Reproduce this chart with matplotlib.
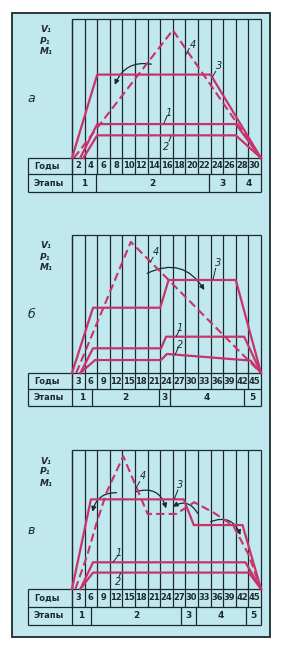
import matplotlib
matplotlib.use("Agg")
import matplotlib.pyplot as plt
from matplotlib.patches import Rectangle, FancyArrowPatch

W, H = 282, 649
BG = "#c0e8ee"
INK = "#1c2a2e"
MAG = "#c9336c"

# ---- panel а (years 0..30) ----
A_TICKS = [2, 4, 6, 8, 10, 12, 14, 16, 18, 20, 22, 24, 26, 28, 30]
A_STAGES = ["1", "2", "3", "4"]
A_STAGE_EDGES = [0, 3.8, 21.7, 26, 30]
A_L1_X = [1.3, 4, 26, 30]
A_L1_Y = [0, 24.4, 24.4, 0]
A_L2_X = [1.8, 4, 26, 30]
A_L2_Y = [0, 16.3, 16.3, 0]
A_L3_X = [0, 4, 22, 30]
A_L3_Y = [0, 60, 60, 0]
A_L4_X = [0.3, 16, 30]
A_L4_Y = [0, 92, 0]

# ---- panel б (years 0..45) ----
B_TICKS = [3, 6, 9, 12, 15, 18, 21, 24, 27, 30, 33, 36, 39, 42, 45]
B_STAGES = ["1", "2", "3", "4", "5"]
B_STAGE_EDGES = [0, 4.8, 20.7, 23.3, 41, 45]
B_L1_X = [2, 5, 21.2, 22.4, 41, 45]
B_L1_Y = [0, 17.9, 17.9, 26.3, 26.3, 0]
B_L2_X = [2, 5.5, 21.2, 22.6, 42.5, 45]
B_L2_Y = [0, 9.4, 9.4, 13.8, 9.0, 0]
B_L3_X = [0, 5, 21, 23, 39, 45]
B_L3_Y = [0, 47.3, 47.3, 67.4, 67.4, 0]
B_L4_X = [1, 14, 45]
B_L4_Y = [0, 95, 0]

# ---- panel в (years 0..45) ----
C_TICKS = B_TICKS
C_STAGES = ["1", "2", "3", "4", "5"]
C_STAGE_EDGES = [0, 4.5, 26, 29.5, 41.4, 45]
C_L1_X = [2, 5, 41.3, 45]
C_L1_Y = [0, 19.2, 19.2, 0]
C_L2_X = [2, 5, 42.1, 45]
C_L2_Y = [0, 11.8, 11.8, 0]
C_L3_X = [0, 4.5, 26.6, 29.0, 40.6, 45]
C_L3_Y = [0, 64.5, 64.5, 46, 46, 0]
C_L4_X = [0.8, 3.6, 5.9, 8.3, 12.2, 18, 24.8, 29.1, 33.7, 38.4, 42, 45]
C_L4_Y = [0, 24, 48, 70, 95.5, 54, 54, 62.4, 55, 45.5, 25, 0]

SIDE_CAPTIONS = ["V₁", "P₁", "M₁"]

# curve labels: text, text pos, leader start, leader end
A_LABELS = [("4", (19.2, 81), (18.6, 78.8), (18.1, 74.5)),
            ("3", (23.3, 66), (22.8, 62.2), (22.3, 58.5)),
            ("1", (15.3, 32.5), (15.05, 29.9), (14.6, 25.1)),
            ("2", (14.9, 8), (15.4, 12), (15.7, 15.5))]
B_LABELS = [("4", (19.9, 87.5), (19.3, 83.8), (18.6, 80.5)),
            ("3", (34.9, 79.5), (34.2, 75.8), (33.6, 68)),
            ("1", (25.6, 32.5), (25.4, 30), (24.8, 26.5)),
            ("2", (25.8, 20.5), (25.2, 17.9), (24.6, 13.6))]
C_LABELS = [("4", (16.8, 81), (16.1, 77.2), (15.3, 73)),
            ("3", (25.8, 74.5), (25.2, 71.2), (24.4, 65)),
            ("1", (11, 26), (10.8, 23.3), (9.8, 19.5)),
            ("2", (10.9, 5), (11.1, 8.2), (11.6, 11.5))]

# curved arrows: start, end, curvature
A_ARROWS = [((12.6, 67.5), (6.8, 52.6), 0.4)]
B_ARROWS = [((17.9, 72.2), (31.5, 60.1), -0.45)]
C_ARROWS = [((10.6, 69.3), (4.9, 55.6), 0.4),
            ((15.2, 70), (22.4, 58), -0.5),
            ((29.9, 54.4), (24.0, 59.2), 0.5),
            ((33.0, 48.4), (40.1, 38.8), -0.5)]

GRID_L, GRID_R, TABLE_L = 72, 261, 28


def draw_panel(fig, top, bot, r1, r2, xmax, ticks, edges, stages,
               lines, dashed, labels, arrows, letter):
    ax = fig.add_axes([GRID_L / W, 1 - bot / H, (GRID_R - GRID_L) / W, (bot - top) / H])
    ax.set_xlim(0, xmax)
    ax.set_ylim(0, 100)
    ax.axis("off")

    def py(ypx):
        return (bot - ypx) / (bot - top) * 100

    def px(xpx):
        return (xpx - GRID_L) / (GRID_R - GRID_L) * xmax

    y1, y2 = py(r1), py(r2)
    kw = dict(color=INK, lw=0.9, clip_on=False, solid_capstyle="butt")
    # grid + year columns
    for t in [0] + ticks[:-1]:
        ax.plot([t, t], [100, y1], **kw)
    ax.plot([0, 0], [100, y2], **kw)
    ax.plot([xmax, xmax], [100, y2], **kw)
    ax.plot([0, xmax], [100, 100], **kw)
    for yy in (0, y1, y2):
        ax.plot([px(TABLE_L), xmax], [yy, yy], **kw)
    ax.plot([px(TABLE_L)] * 2, [0, y2], **kw)
    for e in edges[1:-1]:
        ax.plot([e, e], [y1, y2], **kw)

    step = ticks[1] - ticks[0]
    for t in ticks:
        ax.text(t - step / 2, y1 / 2, str(t), ha="center", va="center",
                fontsize=6, fontweight="bold", color=INK)
    for a, b, s in zip(edges[:-1], edges[1:], stages):
        ax.text((a + b) / 2, (y1 + y2) / 2, s, ha="center", va="center",
                fontsize=6.5, fontweight="bold", color=INK)
    ax.text(px(34), y1 / 2, "Годы", ha="left", va="center",
            fontsize=6, fontweight="bold", color=INK)
    ax.text(px(34), (y1 + y2) / 2, "Этапы", ha="left", va="center",
            fontsize=6, fontweight="bold", color=INK)

    # side captions
    for i, s in enumerate(SIDE_CAPTIONS):
        ax.text(px(40), py(top + 11 + 11 * i), s, ha="left", va="center",
                fontsize=6.5, color=INK, style="italic", fontweight="bold")
    ax.text(px(31), py(top + 80), letter, ha="center", va="center",
            fontsize=9, style="italic", color=INK)

    for xs, ys in lines:
        ax.plot(xs, ys, color=MAG, lw=1.6, clip_on=False)
    ax.plot(dashed[0], dashed[1], color=MAG, lw=1.5, ls=(0, (4, 2)), clip_on=False)

    for s, tp, l0, l1 in labels:
        ax.plot([l0[0], l1[0]], [l0[1], l1[1]], color=INK, lw=0.7)
        ax.text(tp[0], tp[1], s, ha="center", va="center", fontsize=7,
                style="italic", color=INK)
    for p0, p1, rad in arrows:
        ax.add_patch(FancyArrowPatch(p0, p1, connectionstyle=f"arc3,rad={rad}",
                                     arrowstyle="-|>", mutation_scale=7,
                                     color=INK, lw=0.9, shrinkA=0, shrinkB=0))
    return ax


fig = plt.figure(figsize=(W / 100, H / 100), dpi=100)
fig.patch.set_facecolor("white")
fig.patches.append(Rectangle((12 / W, 1 - 637 / H), 258 / W, 624 / H,
                             transform=fig.transFigure, facecolor=BG,
                             edgecolor=INK, lw=1.3, zorder=-1))

draw_panel(fig, 19, 158, 174, 192, 30, A_TICKS, A_STAGE_EDGES, A_STAGES,
           [(A_L1_X, A_L1_Y), (A_L2_X, A_L2_Y), (A_L3_X, A_L3_Y)],
           (A_L4_X, A_L4_Y), A_LABELS, A_ARROWS, "а")
draw_panel(fig, 235, 373, 389, 406, 45, B_TICKS, B_STAGE_EDGES, B_STAGES,
           [(B_L1_X, B_L1_Y), (B_L2_X, B_L2_Y), (B_L3_X, B_L3_Y)],
           (B_L4_X, B_L4_Y), B_LABELS, B_ARROWS, "б")
draw_panel(fig, 450, 589, 607, 625, 45, C_TICKS, C_STAGE_EDGES, C_STAGES,
           [(C_L1_X, C_L1_Y), (C_L2_X, C_L2_Y), (C_L3_X, C_L3_Y)],
           (C_L4_X, C_L4_Y), C_LABELS, C_ARROWS, "в")

fig.savefig("out.png", dpi=100)
